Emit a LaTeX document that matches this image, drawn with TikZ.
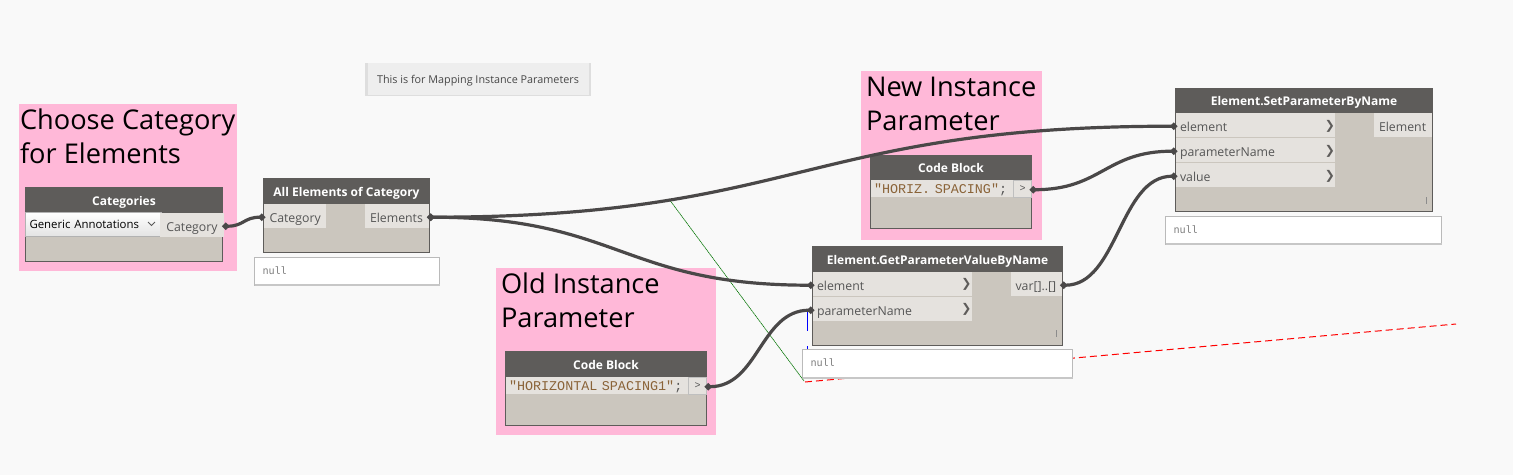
\documentclass[tikz,border=0pt]{standalone}
\usepackage{fontspec}
\setmainfont{Open Sans}
\newfontfamily\codefont{Liberation Mono}
\newfontfamily\stubfont{DejaVu Sans Mono}
\newfontfamily\markfont{DejaVu Sans}
\usetikzlibrary{arrows.meta,shadows}

\definecolor{canvasbg}{HTML}{F9F9F9}
\definecolor{grouppink}{HTML}{FFB8D8}
\definecolor{nodehead}{HTML}{5E5C5A}
\definecolor{nodebody}{HTML}{CBC6BE}
\definecolor{portfill}{HTML}{E5E2DE}
\definecolor{porttext}{HTML}{555555}
\definecolor{wirecol}{HTML}{4A4848}
\definecolor{codebrown}{HTML}{8A6338}

\tikzset{
	every node/.style = {outer sep=0pt, inner sep=0pt},
	group/.style = {fill=grouppink, anchor=north west},
	grouptitle/.style = {anchor=north west, align=left, text=black, font=\fontsize{27.2}{34}\selectfont},
	body/.style = {fill=nodebody, draw=nodehead, line width=1pt, anchor=north west},
	head/.style = {fill=nodehead, text=white, anchor=north west, align=center, minimum height=26pt,
		text height=11pt, text depth=1pt, font=\fontsize{12}{14}\selectfont\bfseries},
	port/.style = {fill=portfill, text=porttext, anchor=north west, inner xsep=4pt, minimum height=24pt,
		text height=12pt, text depth=0pt, font=\fontsize{12.3}{14}\selectfont},
	chevron/.style = {text=nodehead, font=\fontsize{12}{12}\markfont},
	coderow/.style = {fill=portfill, anchor=north west, align=left, inner xsep=3pt, minimum height=17pt,
		text height=10.5pt, text depth=1.5pt, font=\fontsize{13.4}{14}\codefont},
	codeout/.style = {fill=portfill, draw=black!25, line width=0.6pt, anchor=north west, minimum width=18pt,
		minimum height=17pt, text=porttext, font=\fontsize{10}{12}\codefont},
	stub/.style = {fill=white, draw=black!27, line width=1pt, anchor=north west, inner xsep=8pt,
		text=black!50, minimum height=27.5pt, text height=8pt, text depth=2pt,
		font=\fontsize{10.2}{12}\stubfont,
		append after command={(\tikzlastnode.south west) edge[draw=black!22, line width=2pt] (\tikzlastnode.south east)}},
	wire/.style = {draw=wirecol, line width=3.2pt, {Circle[length=6.5pt]}-{Circle[length=6.5pt]},
		shorten <=-1.5pt, shorten >=-1.5pt, transform canvas={yshift=-1.2pt}},
	grip/.style = {draw=black!45, line width=1pt}
}

\begin{document}
\begin{tikzpicture}[x=1pt, y=-1pt]
	\useasboundingbox[fill=canvasbg] (0,0) rectangle (1513,475);

	% stray preview lines behind the nodes
	\coordinate (greenstart) at (669,199);
	\coordinate (greenend) at (804,381);
	\coordinate (redstart) at (805,382);
	\coordinate (redend) at (1456,324);
	\coordinate (cursora) at (807.5,310);
	\coordinate (cursorb) at (807.5,331);
	\coordinate (cursorc) at (807.5,346);
	\coordinate (cursord) at (807.5,350);
	\draw[draw=green!45!black, line width=0.6pt, dash pattern=on 1.5pt off 0.5pt] (greenstart) -- (greenend);
	\draw[draw=red, line width=1pt, dash pattern=on 7pt off 4pt] (redstart) -- (redend);
	\draw[draw=blue, line width=1pt] (cursora) -- (cursorb);
	\draw[draw=blue, line width=1pt] (cursorc) -- (cursord);

	% note
	\node[fill=black!6.5, minimum width=221pt, minimum height=32pt, anchor=north west, text=black!72,
		text height=9pt, text depth=0pt, font=\fontsize{10.8}{12}\selectfont,
		drop shadow={shadow xshift=0pt, shadow yshift=-0.5pt, shadow scale=1.02, fill=black!20, opacity=0.6}]
		(note) at (367.5,63) {This is for Mapping Instance Parameters};

	% groups
	\node[group, minimum width=218pt, minimum height=167pt] (groupcat) at (19,104) {};
	\node[grouptitle] (titlecat) at (20,109) {Choose Category\\for Elements};
	\node[group, minimum width=220pt, minimum height=167pt] (groupold) at (496,268) {};
	\node[grouptitle] (titleold) at (501,273) {Old Instance\\Parameter};
	\node[group, minimum width=181pt, minimum height=169pt] (groupnew) at (861,71) {};
	\node[grouptitle] (titlenew) at (866,77) {New Instance\\Parameter};

	% Categories
	\node[body, minimum width=197pt, minimum height=74pt] (categories) at (25.5,187.5) {};
	\node[head, minimum width=198pt] (categorieshead) at (25,187) {Categories};
	\node[anchor=north west, draw=black!30, line width=1pt, top color=white, bottom color=black!11,
		minimum width=134pt, minimum height=24pt, text width=128pt, inner xsep=4pt, text height=10pt, text depth=2pt,
		font=\fontsize{11.4}{14}\selectfont] (dropdown) at (25.5,212.5) {Generic Annotations};
	\node[port, text width=56pt, align=center] (categoryout) at (160,213) {Category};
	\coordinate (dropa) at (148,222);
	\coordinate (dropb) at (151.5,225.5);
	\coordinate (dropc) at (155,222);
	\draw[draw=black!65, line width=1pt] (dropa) -- (dropb) -- (dropc);

	% All Elements of Category
	\node[body, minimum width=166pt, minimum height=74pt] (allelements) at (263.5,178.5) {};
	\node[head, minimum width=167pt] (allhead) at (263,178) {All Elements of Category};
	\node[port, text width=51pt, inner xsep=5.5pt] (categoryin) at (264,204) {Category};
	\node[port, text width=54pt, inner xsep=5pt] (elementsout) at (365,204) {Elements};
	\node[stub, text width=169pt] (stuball) at (254.5,257.5) {null};

	% Code Block (old)
	\node[body, minimum width=201pt, minimum height=74pt] (codeold) at (505.5,351.5) {};
	\node[head, minimum width=202pt] (codeoldhead) at (505,351) {Code Block};
	\node[coderow, text width=176pt] (codeoldtext) at (506,377) {\textcolor{codebrown}{"HORIZONTAL SPACING1"}\textcolor{porttext}{;}};
	\node[codeout] (codeoldout) at (688.5,377) {>};

	% Code Block (new)
	\node[body, minimum width=161pt, minimum height=73pt] (codenew) at (870.5,155.5) {};
	\node[head, minimum width=162pt, minimum height=25pt] (codenewhead) at (870,155) {Code Block};
	\node[coderow, text width=136pt] (codenewtext) at (871,180) {\textcolor{codebrown}{"HORIZ. SPACING"}\textcolor{porttext}{;}};
	\node[codeout] (codenewout) at (1013.5,180) {>};

	% Element.GetParameterValueByName
	\node[body, minimum width=250pt, minimum height=99pt] (getvalue) at (812.5,246.5) {};
	\node[head, minimum width=251pt] (getvaluehead) at (812,246) {Element.GetParameterValueByName};
	\node[port, text width=151pt] (getelement) at (813,272) {element};
	\node[port, text width=151pt] (getname) at (813,297) {parameterName};
	\node[port, text width=42pt, inner xsep=4.5pt] (getout) at (1011,272) {var[]..[]};
	\node[chevron] (getelementmark) at (966.5,284.5) {❯};
	\node[chevron] (getnamemark) at (966.5,309.5) {❯};
	\coordinate (gripa) at (1056,330);
	\coordinate (gripb) at (1056,337);
	\draw[grip] (gripa) -- (gripb);
	\node[stub, text width=254pt, minimum height=28pt] (stubget) at (802.5,349.5) {null};

	% Element.SetParameterByName
	\node[body, minimum width=257pt, minimum height=123pt] (setvalue) at (1175.5,88.5) {};
	\node[head, minimum width=258pt, minimum height=25pt] (setvaluehead) at (1175,88) {Element.SetParameterByName};
	\node[port, text width=151pt] (setelement) at (1176,113) {element};
	\node[port, text width=151pt] (setname) at (1176,138) {parameterName};
	\node[port, text width=151pt] (setval) at (1176,163) {value};
	\node[port, text width=48pt, inner xsep=5pt] (setout) at (1374,113) {Element};
	\node[chevron] (setelementmark) at (1330,126) {❯};
	\node[chevron] (setnamemark) at (1330,151) {❯};
	\node[chevron] (setvalmark) at (1330,176) {❯};
	\coordinate (gripc) at (1426,197);
	\coordinate (gripd) at (1426,204);
	\draw[grip] (gripc) -- (gripd);
	\node[stub, text width=260pt] (stubset) at (1165.5,216.5) {null};

	% connectors
	\draw[wire] (categoryout.east) .. controls +(20,0) and +(-20,0) .. (categoryin.west -| allelements.west);
	\draw[wire] (elementsout.east) .. controls +(370,0) and +(-370,0) .. (setelement.west -| setvalue.west);
	\draw[wire] (elementsout.east) .. controls +(190,0) and +(-190,0) .. (getelement.west -| getvalue.west);
	\draw[wire] (codeoldout.east) .. controls +(52,0) and +(-52,0) .. (getname.west -| getvalue.west);
	\draw[wire] (codenewout.east) .. controls +(70,0) and +(-70,0) .. (setname.west -| setvalue.west);
	\draw[wire] (getout.east) .. controls +(56,0) and +(-56,0) .. (setval.west -| setvalue.west);
\end{tikzpicture}
\end{document}
